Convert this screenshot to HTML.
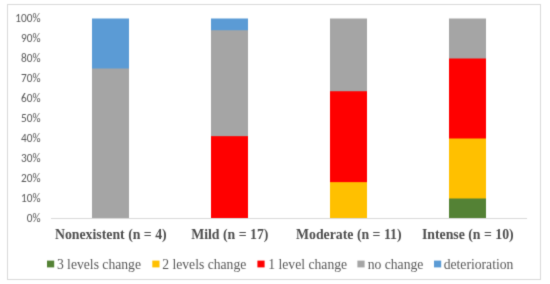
<!DOCTYPE html>
<html><head><meta charset="utf-8"><title>Chart</title><style>
html,body{margin:0;padding:0;background:#fff;width:550px;height:284px;overflow:hidden}
svg{display:block}
.y{font-family:Carlito,"Liberation Sans",sans-serif;font-size:11.3px;fill:#595959}
.x{font-family:"Liberation Serif",serif;font-size:13.8px;font-weight:bold;fill:#4d4d4d}
.l{font-family:"Liberation Serif",serif;font-size:13.65px;fill:#595959}
</style></head><body>
<svg width="550" height="284" viewBox="0 0 550 284">
<defs><filter id="soft" x="0" y="0" width="550" height="284" filterUnits="userSpaceOnUse" color-interpolation-filters="sRGB"><feConvolveMatrix order="3" kernelMatrix="1 6 1 6 36 6 1 6 1" divisor="64" edgeMode="duplicate"/></filter></defs>
<g filter="url(#soft)">
<rect x="0" y="0" width="550" height="284" fill="#fff"/>
<rect x="7.5" y="4.5" width="533" height="275" fill="none" stroke="#d9d9d9" stroke-width="1"/>
<g class="y" text-anchor="end">
<text x="40.5" y="22.30">100%</text>
<text x="40.5" y="42.30">90%</text>
<text x="40.5" y="62.30">80%</text>
<text x="40.5" y="82.30">70%</text>
<text x="40.5" y="102.30">60%</text>
<text x="40.5" y="122.30">50%</text>
<text x="40.5" y="142.30">40%</text>
<text x="40.5" y="162.30">30%</text>
<text x="40.5" y="182.30">20%</text>
<text x="40.5" y="202.30">10%</text>
<text x="40.5" y="222.30">0%</text>
</g>
<rect x="92" y="18.50" width="37" height="200.00" fill="#5B9BD5"/>
<rect x="92" y="68.50" width="37" height="150.00" fill="#A5A5A5"/>
<rect x="211" y="18.50" width="37" height="200.00" fill="#5B9BD5"/>
<rect x="211" y="30.26" width="37" height="188.24" fill="#A5A5A5"/>
<rect x="211" y="136.15" width="37" height="82.35" fill="#FF0000"/>
<rect x="330" y="18.50" width="37" height="200.00" fill="#A5A5A5"/>
<rect x="330" y="91.23" width="37" height="127.27" fill="#FF0000"/>
<rect x="330" y="182.14" width="37" height="36.36" fill="#FFC000"/>
<rect x="449" y="18.50" width="37" height="200.00" fill="#A5A5A5"/>
<rect x="449" y="58.50" width="37" height="160.00" fill="#FF0000"/>
<rect x="449" y="138.50" width="37" height="80.00" fill="#FFC000"/>
<rect x="449" y="198.50" width="37" height="20.00" fill="#548235"/>
<line x1="51" y1="218.5" x2="527" y2="218.5" stroke="#d9d9d9" stroke-width="1"/>
<g class="x" text-anchor="middle">
<text x="110.8" y="238.5">Nonexistent (n = 4)</text>
<text x="229.8" y="238.5">Mild (n = 17)</text>
<text x="348.8" y="238.5">Moderate (n = 11)</text>
<text x="467.8" y="238.5">Intense (n = 10)</text>
</g>
<rect x="47" y="260.6" width="7.2" height="6.8" fill="#548235"/>
<rect x="152.3" y="260.6" width="7.2" height="6.8" fill="#FFC000"/>
<rect x="257.4" y="260.6" width="7.2" height="6.8" fill="#FF0000"/>
<rect x="357.4" y="260.6" width="7.2" height="6.8" fill="#A5A5A5"/>
<rect x="434" y="260.6" width="7.2" height="6.8" fill="#5B9BD5"/>
<g class="l">
<text x="56.9" y="268.5">3 levels change</text>
<text x="162.2" y="268.5">2 levels change</text>
<text x="268.3" y="268.5">1 level change</text>
<text x="367.7" y="268.5">no change</text>
<text x="443.7" y="268.5">deterioration</text>
</g>
</g>
</svg>
</body></html>
